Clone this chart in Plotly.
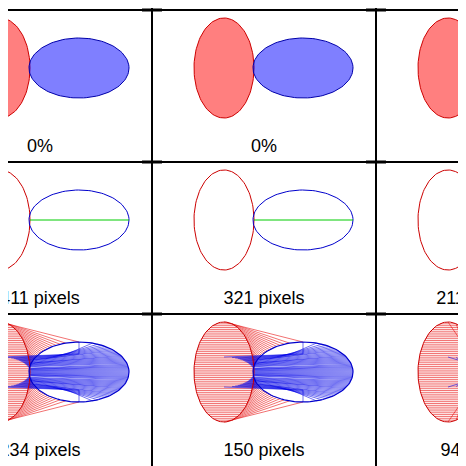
import numpy as np
import plotly.graph_objects as go

# column x offsets (pixel space) and row tops
col_shift = [-224, 0, 224]
row_top = [10, 162, 314]
col_lines = [152, 376]

# per-row ellipse parameters (relative to middle column)
red_cx, red_rx, red_ry = 224, 30, 50
blue_cx, blue_rx, blue_ry = 303, 50, 30
# third column has its blue ellipse shrunk behind the red one
third_blue = (474, 14, 12)

labels = [["0%", "0%", "0%"],
          ["411 pixels", "321 pixels", "211 pixels"],
          ["234 pixels", "150 pixels", "94 pixels"]]
label_x = [40, 264, 476]

fig = go.Figure()


def ellipse(cx, cy, rx, ry, n=120):
    t = np.linspace(0, 2 * np.pi, n)
    return cx + rx * np.cos(t), cy + ry * np.sin(t)


def blue_params(c):
    if c == 2:
        return third_blue
    return blue_cx + col_shift[c], blue_rx, blue_ry


for r, top in enumerate(row_top):
    cy = top + 58
    for c in range(3):
        rcx = red_cx + col_shift[c]
        bcx, brx, bry = blue_params(c)
        if r == 0:
            x, y = ellipse(rcx, cy, red_rx, red_ry)
            fig.add_trace(go.Scatter(x=x, y=y, mode="lines", fill="toself",
                                     fillcolor="rgba(255,0,0,0.5)", line=dict(color="#cc0000", width=1)))
            x, y = ellipse(bcx, cy, brx, bry)
            fig.add_trace(go.Scatter(x=x, y=y, mode="lines", fill="toself",
                                     fillcolor="rgba(0,0,255,0.5)", line=dict(color="#0000aa", width=1)))
        elif r == 1:
            x, y = ellipse(rcx, cy, red_rx, red_ry)
            fig.add_trace(go.Scatter(x=x, y=y, mode="lines", line=dict(color="#cc0000", width=1)))
            x, y = ellipse(bcx, cy, brx, bry)
            fig.add_trace(go.Scatter(x=x, y=y, mode="lines", line=dict(color="#0000cc", width=1)))
            if c < 2:
                fig.add_trace(go.Scatter(x=[rcx + red_rx, bcx + brx], y=[cy, cy], mode="lines",
                                         line=dict(color="#00cc00", width=1)))
        else:
            s = np.linspace(-1, 1, 55)
            rxs, bxs = [], []
            rys, bys = [], []
            for v in s:
                w = np.sqrt(1 - v * v)
                # red: left side of red ellipse -> left side of blue ellipse
                rxs += [rcx - red_rx * w, rcx + red_rx * w, bcx - brx * w, None]
                rys += [cy + red_ry * v, cy + red_ry * v, cy + bry * v, None]
                # blue: right side of blue ellipse -> right side of red ellipse
                bxs += [bcx + brx * w, bcx - brx * w, rcx + red_rx * w, None]
                bys += [cy + bry * v, cy + bry * v * 0.6, cy + red_ry * v * 0.3, None]
            fig.add_trace(go.Scatter(x=rxs, y=rys, mode="lines", line=dict(color="rgba(230,0,0,0.7)", width=0.8)))
            fig.add_trace(go.Scatter(x=bxs, y=bys, mode="lines", line=dict(color="rgba(0,0,230,0.7)", width=0.8)))
            x, y = ellipse(rcx, cy, red_rx, red_ry)
            fig.add_trace(go.Scatter(x=x, y=y, mode="lines", line=dict(color="#cc0000", width=1)))
            x, y = ellipse(bcx, cy, brx, bry)
            fig.add_trace(go.Scatter(x=x, y=y, mode="lines", line=dict(color="#0000cc", width=1.2)))
    fig.add_trace(go.Scatter(x=label_x, y=[top + 137] * 3, mode="text", text=labels[r],
                             textfont=dict(family="Liberation Sans", size=18, color="black"),
                             cliponaxis=True))

for y0 in row_top:
    fig.add_shape(type="line", x0=0, x1=480, y0=y0, y1=y0, line=dict(color="black", width=2))
for x0 in col_lines:
    fig.add_shape(type="line", x0=x0, x1=x0, y0=0, y1=480, line=dict(color="black", width=2))
    for y0 in row_top:
        fig.add_shape(type="line", x0=x0 - 10, x1=x0 + 10, y0=y0, y1=y0, line=dict(color="black", width=3))

# page has an 8px body margin, so shift the ranges to keep pixel coordinates
fig.update_xaxes(range=[8, 474], visible=False)
fig.update_yaxes(range=[474, 8], visible=False)
fig.update_layout(width=466, height=466, margin=dict(l=0, r=0, t=0, b=0),
                  plot_bgcolor="white", paper_bgcolor="white", showlegend=False)
fig.write_html("out.html")
